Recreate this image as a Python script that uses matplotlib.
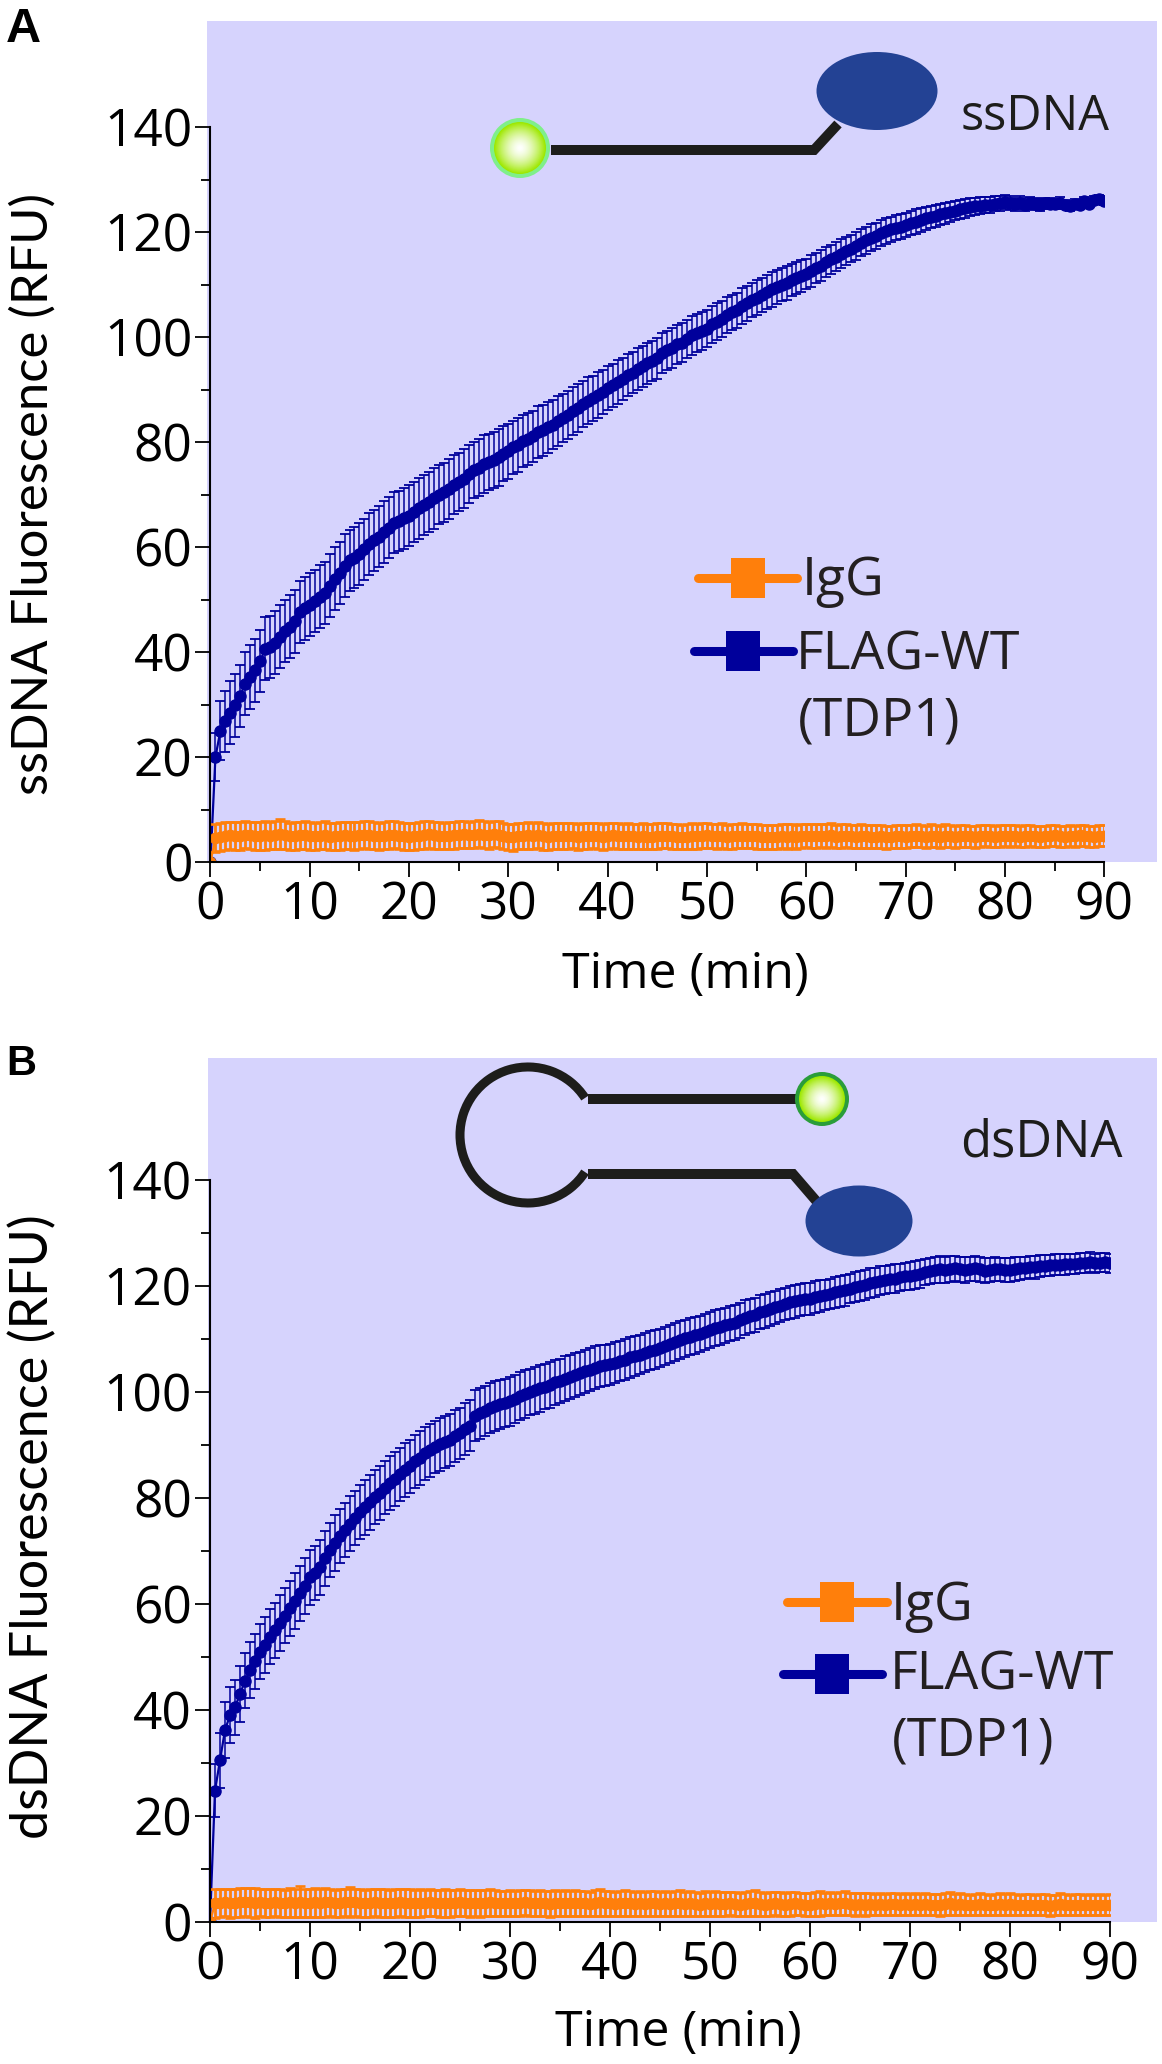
import numpy as np
import matplotlib
matplotlib.use("Agg")
import matplotlib.pyplot as plt
from matplotlib.lines import Line2D
from matplotlib.patches import Arc, Circle, Ellipse, Rectangle
from matplotlib.transforms import Affine2D

plt.rcParams["font.family"] = ["Open Sans", "DejaVu Sans"]

W, H = 1162, 2064
PANEL = "#d6d3fd"
BLUE = "#00009b"
ORANGE = "#ff7f0b"
DARK = "#1d1d1b"
NAVY = "#234294"

x_ticks = [0, 10, 20, 30, 40, 50, 60, 70, 80, 90]
y_ticks = [0, 20, 40, 60, 80, 100, 120, 140]

# readings from the picture, one row = 10 min, one value per 0.5 min
ss_flag = [
    0, 20, 25, 26.8, 28.4, 29.9, 31.7, 34, 35.2, 36.5, 38.2, 40.6, 41, 41.8, 42.9, 44, 44.8, 45.9, 47.6, 48.3,
    49, 49.8, 50.5, 51.2, 52.6, 54, 55.1, 56.4, 57.5, 58, 58.7, 59.6, 60.5, 61.3, 62, 62.8, 63.7, 64.6, 64.9, 65.5,
    66, 66.6, 67.4, 68, 68.5, 69.3, 70, 70.4, 71, 71.9, 72.4, 73, 73.9, 74.7, 75.1, 75.8, 76.2, 76.6, 77.1, 77.8,
    78.2, 79, 79.4, 80.2, 80.6, 81.1, 81.9, 82.2, 82.8, 83.3, 84, 84.6, 85.1, 85.9, 86.5, 87.2, 87.9, 88.3, 89, 89.6,
    90.3, 90.8, 91.5, 92.1, 92.8, 93.2, 93.9, 94.4, 95, 95.4, 96, 96.9, 97.5, 97.9, 98.6, 98.9, 99.7, 100.3, 100.8, 101.1,
    101.6, 102.4, 102.9, 103.5, 104.2, 104.7, 105.1, 105.9, 106.4, 107, 107.5, 108, 108.6, 109.1, 109.5, 110, 110.3, 110.9, 111.2, 111.6,
    112, 112.6, 113.1, 113.6, 114.3, 114.8, 115.3, 115.9, 116.4, 116.8, 117.4, 118, 118.4, 118.9, 119.3, 119.8, 120.2, 120.5, 120.8, 121,
    121.3, 121.7, 122, 122.3, 122.6, 122.8, 123.1, 123.4, 123.6, 123.9, 124.1, 124.3, 124.5, 124.7, 124.9, 125, 125.2, 125.1, 125.4, 125.5,
    125.7, 125.5, 125.3, 125.6, 125.2, 125.5, 125.3, 125.1, 125.5, 125.4, 125.3, 125.6, 125.2, 125, 125.4, 125.1, 125.9, 125.3, 126.1, 126.3,
    126,
]
ss_flag_err = [
    0, 4.6, 5.6, 5.8, 6, 6, 5.9, 6, 6.1, 6, 5.9, 6, 5.9, 6, 6, 5.9, 6, 6, 5.9, 6,
    6, 5.9, 6, 5.9, 6, 6, 5.9, 6, 5.8, 5.9, 5.9, 5.8, 5.9, 5.8, 5.8, 5.9, 5.8, 5.8, 5.7, 5.8,
    5.8, 5.7, 5.8, 5.7, 5.7, 5.8, 5.7, 5.6, 5.7, 5.6, 5.5, 5.6, 5.5, 5.4, 5.4, 5.5, 5.3, 5.3, 5.4, 5.2,
    5.2, 5.1, 5.2, 5, 5, 4.9, 5, 4.8, 4.8, 4.7, 4.8, 4.6, 4.6, 4.5, 4.6, 4.4, 4.4, 4.3, 4.4, 4.2,
    4.2, 4.1, 4.2, 4, 4, 3.9, 4, 3.9, 3.9, 3.8, 3.9, 3.8, 3.7, 3.8, 3.7, 3.7, 3.6, 3.7, 3.6, 3.6,
    3.5, 3.6, 3.5, 3.4, 3.5, 3.4, 3.3, 3.4, 3.3, 3.2, 3.3, 3.2, 3.2, 3.3, 3.2, 3.1, 3.2, 3.1, 3, 3,
    2.9, 3, 2.9, 2.9, 2.9, 2.8, 2.8, 2.7, 2.7, 2.6, 2.7, 2.6, 2.6, 2.6, 2.5, 2.5, 2.4, 2.4, 2.4, 2.4,
    2.3, 2.3, 2.3, 2.2, 2.2, 2.1, 2.1, 2, 2, 1.9, 1.9, 1.8, 1.8, 1.7, 1.6, 1.6, 1.5, 1.5, 1.4, 1.4,
    1.3, 1.3, 1.2, 1.2, 1.2, 1.1, 1.1, 1.1, 1, 1, 1, 1, 0.9, 0.9, 0.9, 0.8, 0.8, 0.8, 0.8, 0.8,
    0.8,
]
ss_igg = [
    0, 4.6, 4.8, 5, 5.1, 4.9, 5, 5.2, 5.1, 4.9, 5, 5.1, 5, 5.2, 5.3, 5.1, 4.9, 5, 5.1, 5.2,
    5, 4.9, 5, 5.1, 4.8, 4.9, 5, 5.1, 5, 4.9, 5.1, 5.2, 5.1, 5, 4.9, 5, 5.1, 5.2, 5, 4.9,
    4.8, 4.9, 5, 5.2, 5.3, 5.1, 5, 4.9, 5, 5.1, 5.2, 5.3, 5.1, 5.2, 5.4, 5.2, 5.1, 5.3, 5.2, 5,
    4.8, 4.7, 4.9, 5, 5.1, 5, 5.1, 4.9, 4.8, 4.9, 5, 5, 4.9, 5, 4.8, 4.9, 5, 5, 4.9, 4.8,
    5, 5.1, 5, 4.9, 5, 4.9, 4.8, 4.9, 4.8, 4.8, 4.9, 5, 5, 4.9, 4.8, 4.7, 4.8, 5, 4.9, 5,
    5.1, 5, 4.9, 5, 4.8, 4.9, 5, 5, 4.9, 5, 4.9, 4.8, 4.8, 4.7, 4.8, 4.9, 4.8, 4.9, 4.8, 4.9,
    5, 5, 4.9, 5, 5, 5.1, 4.8, 4.9, 5, 4.9, 4.8, 4.9, 4.9, 4.8, 4.8, 4.9, 4.7, 4.8, 4.9, 4.9,
    4.8, 4.9, 5, 4.9, 4.8, 5, 4.9, 4.8, 5, 4.9, 4.8, 5, 5, 4.9, 4.8, 4.9, 5, 4.9, 4.8, 4.9,
    5, 4.9, 5, 4.8, 4.9, 5, 4.9, 4.8, 4.9, 5, 5.1, 4.9, 4.8, 5, 4.9, 5.1, 5, 4.9, 4.8, 5,
    5,
]
ss_igg_err = [
    0, 2.6, 2.7, 2.7, 2.6, 2.7, 2.7, 2.6, 2.6, 2.7, 2.7, 2.8, 2.6, 2.7, 2.8, 2.7, 2.6, 2.7, 2.6, 2.7,
    2.7, 2.6, 2.6, 2.7, 2.6, 2.6, 2.7, 2.6, 2.6, 2.7, 2.6, 2.6, 2.7, 2.6, 2.6, 2.6, 2.7, 2.6, 2.6, 2.6,
    2.6, 2.6, 2.6, 2.7, 2.6, 2.6, 2.6, 2.5, 2.6, 2.6, 2.6, 2.6, 2.5, 2.6, 2.6, 2.6, 2.6, 2.5, 2.6, 2.5,
    2.5, 2.6, 2.5, 2.5, 2.6, 2.5, 2.5, 2.6, 2.5, 2.5, 2.5, 2.5, 2.5, 2.4, 2.5, 2.5, 2.5, 2.4, 2.5, 2.5,
    2.5, 2.4, 2.5, 2.4, 2.5, 2.4, 2.4, 2.5, 2.4, 2.4, 2.5, 2.4, 2.4, 2.4, 2.4, 2.3, 2.4, 2.5, 2.4, 2.4,
    2.4, 2.3, 2.4, 2.4, 2.3, 2.4, 2.3, 2.4, 2.3, 2.3, 2.4, 2.3, 2.3, 2.3, 2.3, 2.3, 2.4, 2.3, 2.3, 2.3,
    2.2, 2.3, 2.3, 2.2, 2.3, 2.3, 2.2, 2.3, 2.2, 2.2, 2.2, 2.3, 2.2, 2.2, 2.2, 2.2, 2.2, 2.1, 2.2, 2.2,
    2.2, 2.1, 2.2, 2.1, 2.1, 2.2, 2.1, 2.1, 2.2, 2.1, 2.1, 2.1, 2.1, 2, 2.1, 2.1, 2, 2.1, 2, 2.1,
    2, 2.1, 2, 2, 2.1, 2, 2, 2, 2, 2, 2, 2, 2, 2, 2, 2, 2, 2, 2, 2,
    2,
]

ds_flag = [
    0, 24.8, 30.5, 36.2, 39, 40.5, 43, 45.5, 47.5, 49.2, 51, 52.3, 53.8, 55, 56.4, 57.8, 59.2, 60.6, 62, 63.4,
    65, 65.8, 66.9, 68.6, 70.2, 71.5, 72.8, 74, 75.1, 76.2, 77.3, 78.2, 79.2, 80.1, 81, 81.9, 82.8, 83.6, 84.5, 85.2,
    86, 86.9, 87.6, 88.4, 89, 89.7, 90.1, 90.5, 91, 91.6, 92.2, 93, 93.6, 95.5, 96, 96.4, 96.9, 97.3, 97.7, 97.9,
    98.2, 98.7, 99.2, 99.6, 100, 100.3, 100.7, 101, 101.3, 101.8, 102.1, 102.5, 102.8, 103.2, 103.5, 103.9, 104.2, 104.6, 104.9, 105,
    105.2, 105.5, 105.8, 106.1, 106.5, 106.8, 107, 107.4, 107.8, 108, 108.3, 108.7, 109, 109.4, 109.8, 110.1, 110.4, 110.7, 111, 111.3,
    111.6, 112, 112.3, 112.6, 112.9, 113.1, 113.5, 114, 114.4, 114.6, 115, 115.3, 115.6, 116, 116.3, 116.6, 116.9, 117.1, 117.3, 117.5,
    117.6, 117.9, 118.1, 118.3, 118.5, 118.8, 119, 119.2, 119.5, 119.8, 120, 120.2, 120.5, 120.7, 121, 121.1, 121.3, 121.4, 121.6, 121.8,
    121.9, 122.1, 122.3, 122.6, 122.8, 123, 123.1, 123, 123.2, 123.3, 123.1, 123, 123.2, 123.3, 123.1, 122.9, 123, 123.2, 123.1, 123,
    123, 123.2, 123.3, 123.4, 123.6, 123.5, 123.7, 123.8, 123.9, 124, 124, 124.1, 124.2, 124.1, 124.3, 124.4, 124.5, 124.3, 124.4, 124.5,
    124.3,
]
ds_flag_err = [
    0, 5, 5.2, 5.3, 5.3, 5.2, 5.3, 5.2, 5.3, 5.2, 5.2, 5.3, 5.2, 5.2, 5.3, 5.2, 5.2, 5.3, 5.2, 5.2,
    5.2, 5.1, 5.2, 5.2, 5.1, 5.2, 5.1, 5.1, 5.2, 5.1, 5.1, 5.1, 5.2, 5.1, 5.1, 5, 5.1, 5.1, 5, 5.1,
    5, 5, 5.1, 5, 5, 4.9, 5, 4.9, 4.9, 4.9, 4.8, 4.9, 4.8, 4.8, 4.8, 4.7, 4.7, 4.7, 4.6, 4.6,
    4.6, 4.5, 4.5, 4.5, 4.4, 4.4, 4.4, 4.3, 4.3, 4.3, 4.2, 4.2, 4.2, 4.1, 4.1, 4.1, 4, 4, 4, 3.9,
    3.9, 3.9, 3.8, 3.8, 3.8, 3.8, 3.7, 3.7, 3.7, 3.7, 3.6, 3.6, 3.6, 3.6, 3.5, 3.5, 3.5, 3.5, 3.4, 3.4,
    3.4, 3.4, 3.4, 3.3, 3.3, 3.3, 3.3, 3.3, 3.2, 3.2, 3.2, 3.2, 3.2, 3.1, 3.1, 3.1, 3.1, 3.1, 3, 3,
    3, 3, 3, 2.9, 2.9, 2.9, 2.9, 2.9, 2.8, 2.8, 2.8, 2.8, 2.8, 2.7, 2.7, 2.7, 2.7, 2.7, 2.6, 2.6,
    2.6, 2.6, 2.6, 2.5, 2.5, 2.5, 2.5, 2.4, 2.4, 2.4, 2.4, 2.4, 2.3, 2.3, 2.3, 2.3, 2.3, 2.2, 2.2, 2.2,
    2.2, 2.2, 2.2, 2.1, 2.1, 2.1, 2.1, 2, 2, 2, 2, 2, 1.9, 1.9, 1.9, 1.9, 1.9, 1.8, 1.8, 1.8,
    1.8,
]
ds_igg = [
    0, 3.5, 3.6, 3.7, 3.5, 3.6, 3.7, 3.8, 3.7, 3.6, 3.7, 3.6, 3.6, 3.7, 3.6, 3.5, 3.7, 3.6, 3.8, 3.6,
    3.6, 3.7, 3.6, 3.7, 3.7, 3.5, 3.6, 3.7, 3.8, 3.7, 3.6, 3.5, 3.6, 3.7, 3.6, 3.6, 3.5, 3.6, 3.7, 3.6,
    3.6, 3.5, 3.6, 3.6, 3.7, 3.6, 3.5, 3.6, 3.5, 3.6, 3.7, 3.6, 3.5, 3.6, 3.5, 3.6, 3.7, 3.6, 3.5, 3.5,
    3.6, 3.5, 3.6, 3.7, 3.6, 3.5, 3.6, 3.5, 3.4, 3.6, 3.5, 3.6, 3.5, 3.6, 3.5, 3.5, 3.4, 3.6, 3.7, 3.5,
    3.5, 3.4, 3.5, 3.6, 3.5, 3.4, 3.5, 3.4, 3.5, 3.5, 3.4, 3.5, 3.4, 3.5, 3.6, 3.4, 3.5, 3.4, 3.3, 3.5,
    3.4, 3.5, 3.4, 3.4, 3.5, 3.4, 3.3, 3.4, 3.5, 3.6, 3.4, 3.3, 3.4, 3.5, 3.4, 3.3, 3.4, 3.5, 3.4, 3.3,
    3.3, 3.4, 3.5, 3.4, 3.5, 3.4, 3.5, 3.6, 3.4, 3.3, 3.4, 3.3, 3.4, 3.3, 3.4, 3.3, 3.4, 3.4, 3.3, 3.4,
    3.3, 3.4, 3.3, 3.4, 3.3, 3.3, 3.2, 3.4, 3.5, 3.3, 3.4, 3.3, 3.2, 3.3, 3.4, 3.3, 3.2, 3.3, 3.4, 3.3,
    3.4, 3.3, 3.2, 3.3, 3.3, 3.2, 3.3, 3.3, 3.1, 3.2, 3.4, 3.3, 3.2, 3.3, 3.3, 3.2, 3.3, 3.2, 3.3, 3.2,
    3.3,
]
ds_igg_err = [
    0, 2.8, 2.7, 2.6, 2.7, 2.6, 2.7, 2.6, 2.7, 2.8, 2.6, 2.7, 2.6, 2.6, 2.7, 2.6, 2.7, 2.6, 2.9, 2.7,
    2.6, 2.7, 2.6, 2.7, 2.6, 2.6, 2.7, 2.6, 2.8, 2.6, 2.6, 2.5, 2.6, 2.6, 2.7, 2.6, 2.5, 2.6, 2.6, 2.6,
    2.6, 2.5, 2.6, 2.5, 2.6, 2.5, 2.5, 2.6, 2.5, 2.5, 2.6, 2.5, 2.5, 2.5, 2.5, 2.4, 2.5, 2.5, 2.4, 2.4,
    2.5, 2.4, 2.5, 2.4, 2.4, 2.4, 2.4, 2.4, 2.4, 2.4, 2.4, 2.4, 2.3, 2.4, 2.3, 2.4, 2.3, 2.4, 2.5, 2.3,
    2.3, 2.3, 2.3, 2.4, 2.3, 2.3, 2.3, 2.2, 2.3, 2.3, 2.2, 2.3, 2.2, 2.3, 2.4, 2.2, 2.3, 2.2, 2.2, 2.3,
    2.2, 2.3, 2.2, 2.2, 2.2, 2.2, 2.1, 2.2, 2.3, 2.4, 2.2, 2.1, 2.2, 2.2, 2.2, 2.1, 2.2, 2.2, 2.1, 2.1,
    2.1, 2.2, 2.3, 2.1, 2.2, 2.1, 2.2, 2.3, 2.1, 2.1, 2.1, 2.1, 2.1, 2, 2.1, 2, 2.1, 2.1, 2, 2.1,
    2, 2.1, 2, 2, 2, 2, 2, 2.1, 2.2, 2, 2, 2, 1.9, 2, 2.1, 2, 1.9, 2, 2, 2,
    2, 2, 1.9, 2, 2, 1.9, 2, 2, 1.9, 1.9, 2, 2, 1.9, 1.9, 2, 1.9, 1.9, 1.9, 1.9, 1.9,
    1.9,
]

fig = plt.figure(figsize=(W / 100, H / 100), dpi=100)

# y down pixel coordinates of the reference, for the drawn cartoons and keys
px = Affine2D().scale(1, -1).translate(0, H)


def add(artist):
    artist.set_transform(px)
    fig.add_artist(artist)
    return artist


def label(x, y, s, size=38.5, **kw):
    fig.text(x, y, s, transform=px, fontsize=size, **kw)


def clip_series(ax, cont):
    # the original graph cuts bars and markers at the ends of the x axis
    box = Rectangle((0, 0), 90, 200, transform=ax.transData)
    line, caps, bars = cont.lines
    for art in [line, *caps, *bars]:
        art.set_clip_path(box)


def panel(rect, xlim, ylim, flag, flag_err, igg, igg_err):
    left, top, right, bottom = rect
    ax = fig.add_axes([left / W, 1 - bottom / H, (right - left) / W, (bottom - top) / H])
    ax.set_facecolor(PANEL)
    ax.set_xlim(xlim)
    ax.set_ylim(ylim)
    t = np.arange(len(flag)) * 0.5
    blue = ax.errorbar(t, flag, yerr=flag_err, color=BLUE, lw=1.6, marker="o", ms=8, mec=BLUE,
                       elinewidth=1.1, capsize=3.6, capthick=1.3, zorder=3)
    orange = ax.errorbar(t, igg, yerr=igg_err, color=ORANGE, lw=1.6, marker="o", ms=7.5, mec=ORANGE,
                         elinewidth=2.0, capsize=3.6, capthick=1.9, zorder=4)
    clip_series(ax, blue)
    clip_series(ax, orange)
    for side in ["top", "right"]:
        ax.spines[side].set_visible(False)
    ax.spines["left"].set_position(("data", 0))
    ax.spines["bottom"].set_position(("data", 0))
    ax.spines["left"].set_bounds(0, 140)
    ax.spines["bottom"].set_bounds(0, 90)
    for side in ["left", "bottom"]:
        ax.spines[side].set_linewidth(1.5)
        ax.spines[side].set_zorder(6)
    ax.set_xticks(x_ticks)
    ax.set_yticks(y_ticks)
    ax.set_xticks(np.arange(5, 90, 10), minor=True)
    ax.set_yticks(np.arange(10, 140, 20), minor=True)
    ax.tick_params(which="major", length=11, width=1.3, labelsize=37, pad=2)
    ax.tick_params(which="minor", length=6.5, width=1.3)
    return ax


panel((207, 21, 1157, 862), (-0.35, 95.3), (0, 160.2), ss_flag, ss_flag_err, ss_igg, ss_igg_err)
panel((208, 1058, 1157, 1922), (-0.2, 94.7), (0, 163), ds_flag, ds_flag_err, ds_igg, ds_igg_err)

# axis titles
fig.text(33, 494, "ssDNA Fluorescence (RFU)", transform=px, fontsize=36.5, family="Lato", rotation=90, ha="center", va="center", color="black")
fig.text(33, 1527, "dsDNA Fluorescence (RFU)", transform=px, fontsize=37.5, family="Lato", rotation=90, ha="center", va="center", color="black")
fig.text(685, 975, "Time (min)", transform=px, fontsize=36, ha="center", va="center", color="black")
fig.text(678, 2033, "Time (min)", transform=px, fontsize=36, ha="center", va="center", color="black")

# panel letters
fig.text(6, 42, "A", transform=px, fontsize=35, fontweight="bold", family="Liberation Sans")
fig.text(6, 1075, "B", transform=px, fontsize=30, fontweight="bold", family="Liberation Sans")


def bead(cx, cy, r, ring, rim):
    add(Circle((cx, cy), r, fc=ring, ec="none", zorder=5))
    steps = 24
    for i in range(steps):
        f = 1 - i / steps
        g = 1 - f ** 1.6
        col = (0.62 + 0.38 * g, 0.91 + 0.09 * g, 0.0 + 1.0 * g)
        add(Circle((cx, cy), (r - rim) * f, fc=col, ec="none", zorder=5))


# ssDNA cartoon
add(Line2D([551, 814, 838], [150, 150, 124], color=DARK, lw=7.2, solid_joinstyle="miter", solid_capstyle="butt", zorder=4))
bead(520, 148, 30, "#7fef8a", 4)
add(Ellipse((877, 91), 121, 78, fc=NAVY, ec="none", zorder=5))
fig.text(1035, 117, "ssDNA", transform=px, fontsize=35, ha="center", va="center", color="#1d1d1b")

# dsDNA cartoon
add(Arc((528, 1135), 136, 136, theta1=33, theta2=327, color=DARK, lw=6.5, zorder=4))
add(Line2D([588, 798], [1099, 1099], color=DARK, lw=7.2, solid_capstyle="butt", zorder=4))
add(Line2D([588, 793, 818], [1174, 1174, 1203], color=DARK, lw=7.2, solid_joinstyle="miter", solid_capstyle="butt", zorder=4))
bead(822, 1099, 27, "#2a9d3a", 4)
add(Ellipse((859, 1221), 107, 71, fc=NAVY, ec="none", zorder=5))
fig.text(1041, 1143, "dsDNA", transform=px, fontsize=36.5, ha="center", va="center", color="#1d1d1b")


def key(x0, x1, y, sq0, col):
    add(Line2D([x0, x1], [y, y], color=col, lw=6.5, solid_capstyle="round", zorder=5))
    add(Rectangle((sq0, y - 20), 34, 40, fc=col, ec="none", zorder=6))


# hand placed keys, same as the original figure
key(698, 797, 578, 731, ORANGE)
key(694, 793, 651, 726, BLUE)
label(802, 595, "IgG", color="#231f20")
label(796, 669, "FLAG-WT", color="#231f20")
label(798, 736, "(TDP1)", color="#231f20")

key(787, 887, 1602, 820, ORANGE)
key(783, 882, 1674, 815, BLUE)
label(891, 1620, "IgG", color="#231f20")
label(890, 1689, "FLAG-WT", color="#231f20")
label(892, 1756, "(TDP1)", color="#231f20")

fig.savefig("out.png", dpi=100)
